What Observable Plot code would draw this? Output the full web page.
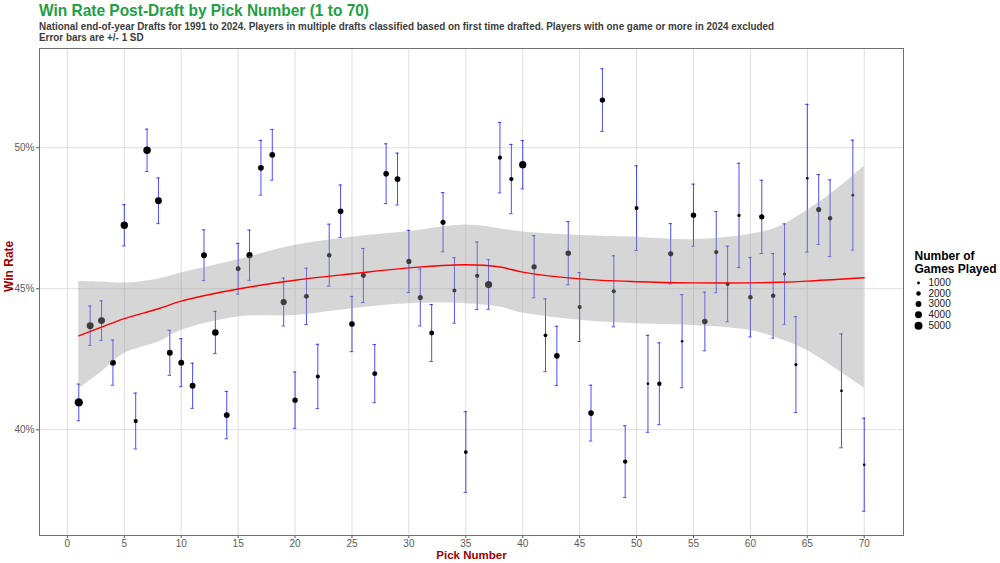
<!DOCTYPE html>
<html><head><meta charset="utf-8">
<script src="https://cdn.jsdelivr.net/npm/d3@7"></script>
<script src="https://cdn.jsdelivr.net/npm/@observablehq/plot@0.6"></script>
<style>
body{margin:0;background:#fff;}
#wrap{position:relative;width:1000px;height:563px;overflow:hidden;font-family:"Liberation Sans",Arial,sans-serif;}
.hd{position:absolute;left:39px;white-space:nowrap;font-family:"Liberation Sans",Arial,sans-serif;font-weight:bold;transform-origin:0 0;}
#title{top:2px;font-size:17px;line-height:17px;color:#22a045;}
#sub1{top:21px;font-size:11px;line-height:11px;color:#3c3c3c;}
#sub2{top:32px;font-size:11px;line-height:11px;color:#3c3c3c;}
#chart{position:absolute;left:0;top:0;}
#legend{position:absolute;left:906px;top:248px;}
</style></head>
<body>
<div id="wrap">
  <div id="chart"></div>
  <div id="title" class="hd">Win Rate Post-Draft by Pick Number (1 to 70)</div>
  <div id="sub1" class="hd">National end-of-year Drafts for 1991 to 2024. Players in multiple drafts classified based on first time drafted. Players with one game or more in 2024 excluded</div>
  <div id="sub2" class="hd">Error bars are +/- 1 SD</div>
  <div id="legend"></div>
</div>
<script>
const picks = [1,2,3,4,5,6,7,8,9,10,11,12,13,14,15,16,17,18,19,20,21,22,23,24,25,26,27,28,29,30,31,32,33,34,35,36,37,38,39,40,41,42,43,44,45,46,47,48,49,50,51,52,53,54,55,56,57,58,59,60,61,62,63,64,65,66,67,68,69,70];
const winRate = [40.97,43.69,43.87,42.38,47.25,40.31,49.91,48.12,42.73,42.38,41.56,46.19,43.45,40.52,45.71,46.19,49.29,49.75,44.53,41.05,44.73,41.89,46.19,47.75,43.75,45.47,41.99,49.08,48.89,45.97,44.69,43.43,47.36,44.94,39.21,45.46,45.15,49.65,48.89,49.40,45.78,43.35,42.62,46.26,44.35,40.59,51.69,44.91,38.87,47.86,41.63,41.63,46.24,43.14,47.61,43.84,46.30,45.17,47.60,44.70,47.55,44.75,45.52,42.31,48.92,47.81,47.50,41.38,48.32,38.76];
const sd = [0.65,0.70,0.70,0.80,0.73,0.99,0.75,0.81,0.80,0.85,0.80,0.90,0.75,0.84,0.90,0.89,0.97,0.90,0.85,1.00,1.00,1.14,1.10,0.93,0.98,0.96,1.03,1.06,0.92,1.10,1.01,1.01,1.05,1.16,1.43,1.20,0.88,1.25,1.23,0.86,1.10,1.29,1.05,1.12,1.22,0.99,1.11,1.26,1.27,1.50,1.72,1.45,1.07,1.65,1.10,1.04,1.44,1.34,1.85,1.41,1.30,1.50,1.78,1.70,2.62,1.24,1.36,2.02,1.95,1.65];
const games = [5400,3900,4000,3000,4400,1800,4500,3900,3000,3000,3000,3000,3600,3000,2300,3300,2900,2900,3300,2600,2300,1700,2000,2800,2800,2300,2300,2800,2900,2400,2400,2300,2400,1600,1500,1800,4200,1700,1800,4300,2500,1500,2800,2700,1700,2800,2600,1700,1900,1700,900,1900,2500,900,2600,2700,1800,1700,1200,2000,2600,2000,1100,1100,900,2400,1900,1000,1000,900];

// LOESS smooth
const smoothPick  = [1,3,5,8,10,15,20,25,30,35,38,40,45,50,55,60,62.5,65,67.5,70];
const smoothFit   = [43.33,43.64,43.94,44.29,44.56,44.99,45.30,45.53,45.74,45.85,45.77,45.59,45.35,45.25,45.21,45.21,45.23,45.27,45.33,45.39];
const smoothLow   = [41.45,42.05,42.70,43.11,43.52,44.00,44.05,44.29,44.47,44.47,44.35,44.14,43.88,43.76,43.70,43.52,43.23,42.81,42.16,41.48];
const smoothHigh  = [45.26,45.24,45.20,45.35,45.56,46.03,46.54,46.83,47.03,47.26,47.13,47.01,46.89,46.83,46.74,46.93,47.19,47.78,48.49,49.34];

const xTicks = [0,5,10,15,20,25,30,35,40,45,50,55,60,65,70];
const yTicks = [40,45,50];
const legendValues = [1000,2000,3000,4000,5000];

const rows = picks.map((p,i)=>({pick:p, rate:winRate[i], sd:sd[i], games:games[i]}));
const smooth = smoothPick.map((p,i)=>({pick:p, fit:smoothFit[i], lo:smoothLow[i], hi:smoothHigh[i]}));

const rScale = {type:"pow", exponent:0.5, domain:[800,5500], range:[1.2,4.2]};

const chart = Plot.plot({
  width:1000, height:563,
  marginTop:48, marginBottom:28, marginLeft:39, marginRight:97,
  style:{fontFamily:"'Liberation Sans', Arial, sans-serif", background:"#fff"},
  x:{domain:[-2.45,73.45]},
  y:{domain:[36.25,53.52]},
  r:rScale,
  marks:[
    Plot.ruleX(xTicks,{stroke:"#dedede", strokeWidth:1}),
    Plot.ruleY(yTicks,{stroke:"#dedede", strokeWidth:1}),
    Plot.axisX(xTicks,{tickSize:3, tickPadding:1, fontSize:10, color:"#5a5a5a", stroke:"#555", label:null}),
    Plot.axisY(yTicks,{tickSize:3, tickPadding:2, fontSize:10, color:"#5a5a5a", stroke:"#555", label:null, tickFormat:d=>d+"%"}),
    Plot.ruleX(rows,{x:"pick", y1:d=>d.rate-d.sd, y2:d=>d.rate+d.sd, stroke:"blue", strokeOpacity:0.7, strokeWidth:1}),
    Plot.ruleY(rows,{y:d=>d.rate-d.sd, x1:d=>d.pick-0.15, x2:d=>d.pick+0.15, stroke:"blue", strokeOpacity:0.7}),
    Plot.ruleY(rows,{y:d=>d.rate+d.sd, x1:d=>d.pick-0.15, x2:d=>d.pick+0.15, stroke:"blue", strokeOpacity:0.7}),
    Plot.dot(rows,{x:"pick", y:"rate", r:"games", fill:"black", stroke:null}),
    Plot.areaY(smooth,{x:"pick", y1:"lo", y2:"hi", fill:"#999999", fillOpacity:0.4, curve:"catmull-rom"}),
    Plot.lineY(smooth,{x:"pick", y:"fit", stroke:"red", strokeWidth:1.4, curve:"catmull-rom"}),
    Plot.frame({stroke:"#6f6f6f", strokeWidth:1}),
    Plot.text(["Pick Number"],{frameAnchor:"bottom", dy:23, fontSize:11.5, fontWeight:"bold", fill:"#a30000"}),
    Plot.text(["Win Rate"],{frameAnchor:"left", dx:-30, rotate:-90, fontSize:12, fontWeight:"bold", fill:"#a30000"})
  ]
});
document.getElementById("chart").append(chart);

const legend = Plot.plot({
  width:94, height:85,
  margin:0,
  style:{fontFamily:"'Liberation Sans', Arial, sans-serif", background:"transparent", overflow:"visible"},
  x:{domain:[0,94], axis:null},
  y:{domain:[0,85], axis:null, reverse:true},
  r:rScale,
  marks:[
    Plot.text(["Number of","Games Played"],{x:8, y:(d,i)=>[8,21][i], text:d=>d, textAnchor:"start", fontSize:12, fontWeight:"bold", fill:"#000"}),
    Plot.dot(legendValues,{x:12, y:(d,i)=>[34.5,45,55.5,66.3,77.3][i], r:d=>d, fill:"black", stroke:null}),
    Plot.text(legendValues,{x:22, y:(d,i)=>[34.5,45,55.5,66.3,77.3][i], text:d=>String(d), textAnchor:"start", fontSize:10, fill:"#222"})
  ]
});
document.getElementById("legend").append(legend);

// condense header text to the reference's narrow face
function squeeze(el, target){
  const w = el.getBoundingClientRect().width;
  const k = target / w;
  el.style.transform = `scaleX(${k})`;
  return k;
}
const kt = squeeze(document.getElementById("title"), 330);
const ks = squeeze(document.getElementById("sub1"), 735);
document.getElementById("sub2").style.transform = `scaleX(${ks})`;
</script>
</body></html>
